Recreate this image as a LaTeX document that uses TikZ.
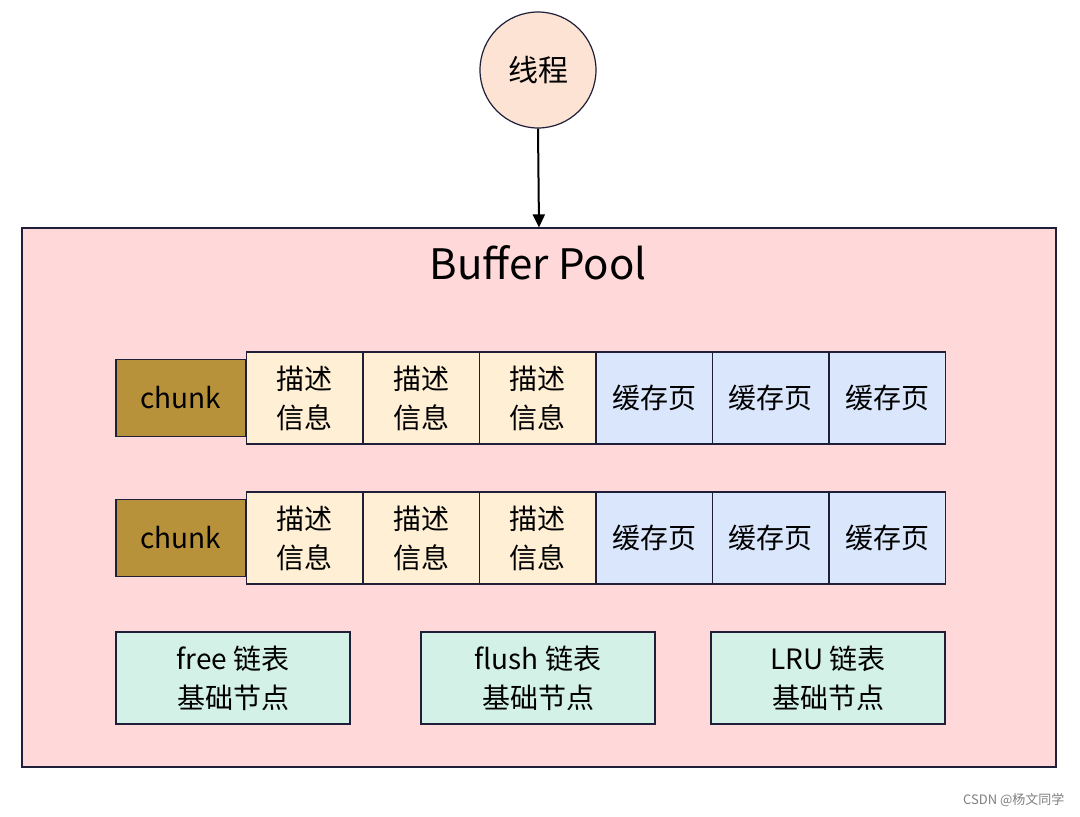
\documentclass[tikz,border=0pt]{standalone}
\usepackage{fontspec}
\setmainfont{Noto Sans CJK SC}
\usetikzlibrary{arrows.meta}
\definecolor{edge}{HTML}{1F1F3A}
\definecolor{pool}{HTML}{FFD9DA}
\definecolor{circ}{HTML}{FDE3D3}
\definecolor{chunkc}{HTML}{B8913B}
\definecolor{desc}{HTML}{FFF0D5}
\definecolor{page}{HTML}{DAE6FB}
\definecolor{list}{HTML}{D3F1E6}
\tikzset{
 cell/.style={draw=edge,line width=1.2pt,minimum height=92pt,align=center,inner sep=0pt,font=\fontsize{28}{39}\selectfont},
 dsc/.style={cell,fill=desc,minimum width=116.5pt},
 pg/.style={cell,fill=page,minimum width=116.5pt},
 chk/.style={cell,fill=chunkc,minimum width=130pt,minimum height=77pt},
 lst/.style={cell,fill=list,minimum width=234pt},
}
\begin{document}
\begin{tikzpicture}[x=1pt,y=-1pt]
\useasboundingbox (0,0) rectangle (1080,817);
\fill[white] (0,0) rectangle (1080,817);
\node[circle,draw=edge,line width=1.2pt,fill=circ,minimum size=116pt,font=\fontsize{30}{36}\selectfont] (t) at (538,70) {线程};
\node[draw=edge,line width=1.2pt,fill=pool,minimum width=1034pt,minimum height=539pt,inner sep=0pt] (bp) at (539,497.5) {};
\node[font=\fontsize{42}{50}\selectfont] (title) at (538,263) {Buffer Pool};
\draw[black,line width=2pt,-{Triangle[length=13pt,width=12pt]}] (t.south) -- (bp.north);
\foreach \r/\y in {1/398,2/538}{
 \node[chk] (c\r) at (181,\y) {chunk};
 \node[dsc] (d\r a) at (304.75,\y) {描述\\信息};
 \node[dsc] (d\r b) at (421.25,\y) {描述\\信息};
 \node[dsc] (d\r c) at (537.75,\y) {描述\\信息};
 \node[pg] (p\r a) at (654.25,\y) {缓存页};
 \node[pg] (p\r b) at (770.75,\y) {缓存页};
 \node[pg] (p\r c) at (887.25,\y) {缓存页};
}
\node[lst] (l1) at (233,678) {free 链表\\基础节点};
\node[lst] (l2) at (538,678) {flush 链表\\基础节点};
\node[lst] (l3) at (828,678) {LRU 链表\\基础节点};
\node[font=\fontsize{13}{15}\selectfont,text=gray,anchor=east] (wm) at (1068,800) {CSDN @杨文同学};
\end{tikzpicture}
\end{document}
